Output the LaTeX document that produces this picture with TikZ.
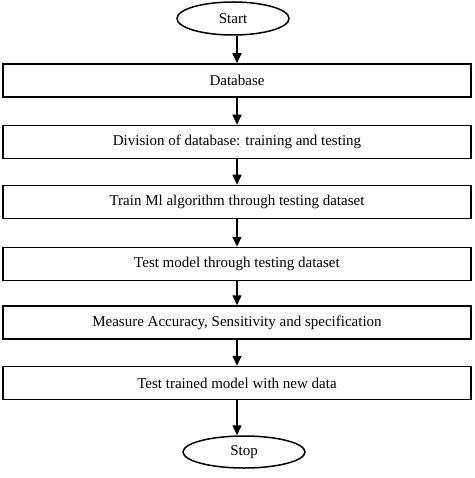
\documentclass[tikz,border=0pt]{standalone}
\usepackage{fontspec}
\setmainfont{Liberation Serif}
\usetikzlibrary{arrows.meta, shapes.geometric}
\tikzset{ov/.style = {ellipse, draw, line width=1.5pt, minimum width=112pt, minimum height=33pt, inner sep=0pt},
         bx/.style = {rectangle, draw, line width=1.5pt, minimum width=468pt, minimum height=33pt, inner sep=0pt},
         ar/.style = {->, line width=1.6pt}}

\begin{document}
\begin{tikzpicture}[x=1pt, y=-1pt, >={Triangle[length=10pt, width=9pt]}, font=\fontsize{15}{18}\selectfont]
    \useasboundingbox (0,0) rectangle (474,478);
    \node[ov] (s) at (233,18.5) {Start};
    \node[bx] (a) at (237,80.5) {Database};
    \node[bx] (b) at (237,142) {Division of database: training and testing};
    \node[bx] (c) at (237,202) {Train Ml algorithm through testing dataset};
    \node[bx] (d) at (237,264) {Test model through testing dataset};
    \node[bx] (e) at (237,322.5) {Measure Accuracy, Sensitivity and specification};
    \node[bx] (f) at (237,383) {Test trained model with new data};
    \node[ov, minimum width=122pt, minimum height=32pt] (t) at (244,452) {Stop};
    \draw[ar] (a.north |- s.south) -- (a.north);
    \draw[ar] (a) -- (b);
    \draw[ar] (b) -- (c);
    \draw[ar] (c) -- (d);
    \draw[ar] (d) -- (e);
    \draw[ar] (e) -- (f);
    \draw[ar] (f.south) -- (f.south |- t.north);
\end{tikzpicture}
\end{document}
